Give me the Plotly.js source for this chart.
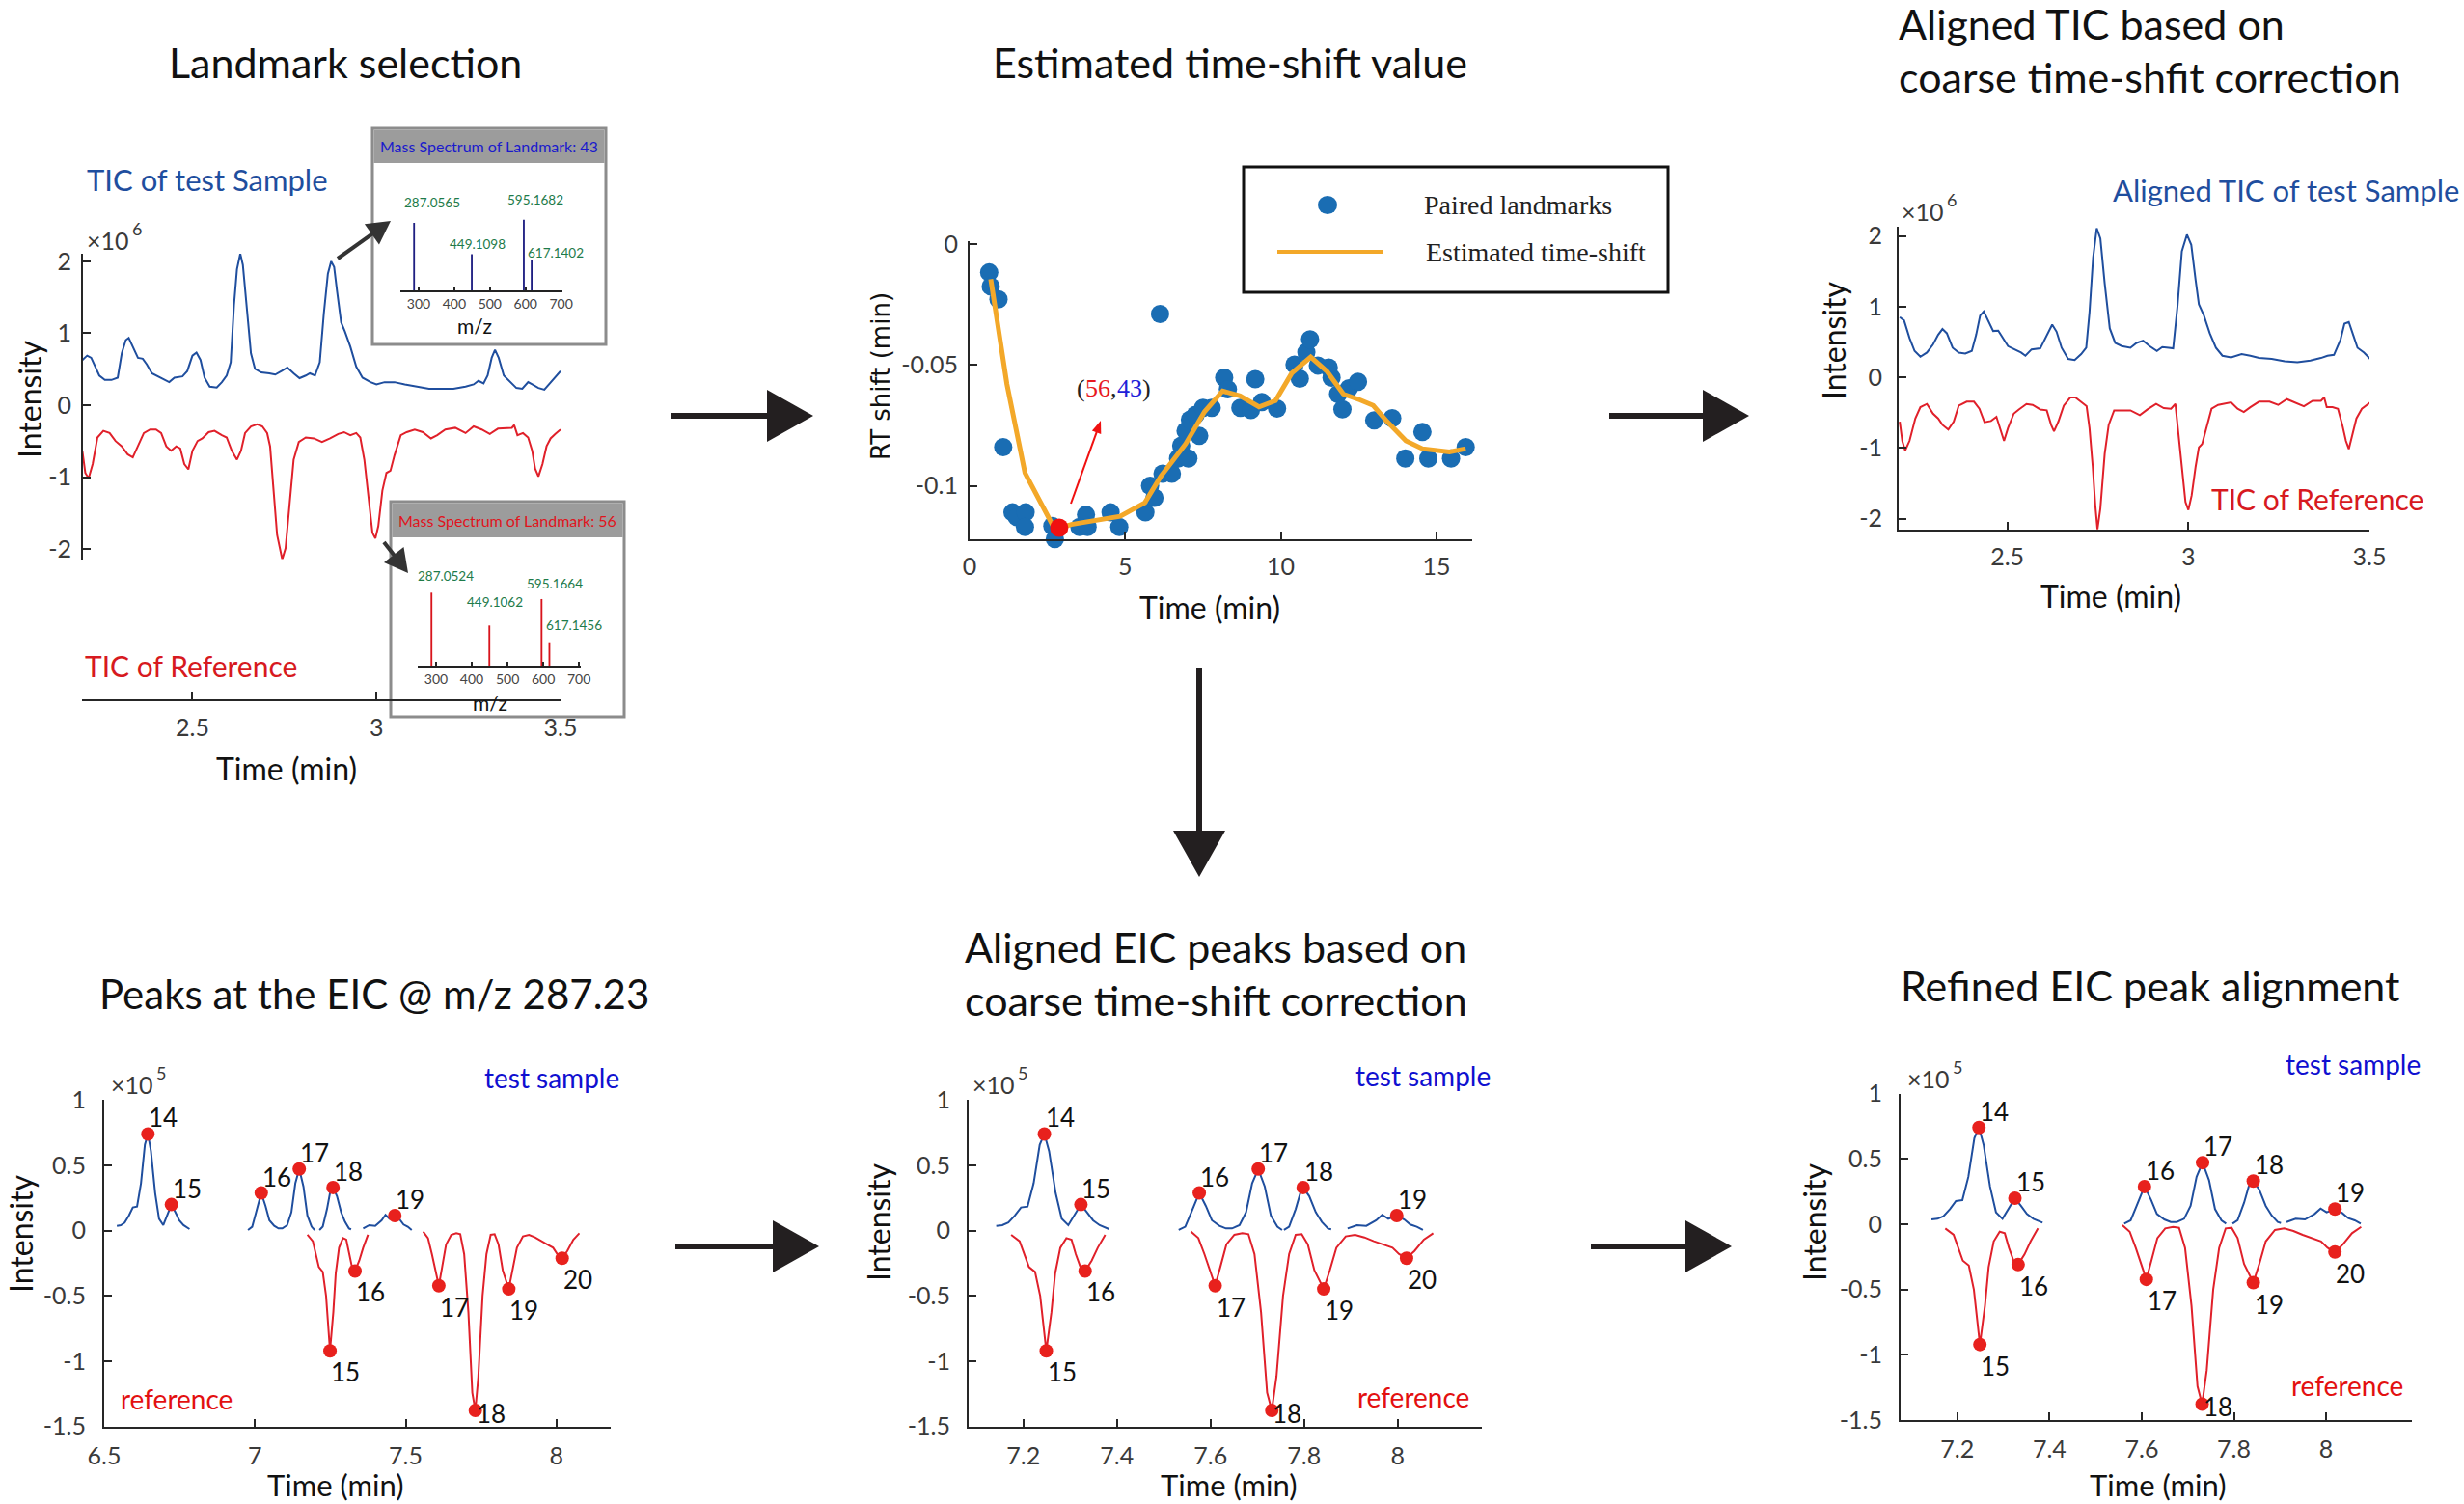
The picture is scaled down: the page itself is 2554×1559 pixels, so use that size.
<!DOCTYPE html>
<html>
<head>
<meta charset="utf-8">
<script src="https://cdn.plot.ly/plotly-3.0.1.min.js"></script>
<style>
html,body{margin:0;padding:0;background:#ffffff;}
#chart{width:2554px;height:1559px;}
</style>
</head>
<body>
<div id="chart"></div>
<script>
// ================= DATA =================
// Panel 1: TIC before alignment (time in min, intensity x1e6)
const lmTestTime = [2.201,2.214,2.225,2.236,2.247,2.262,2.280,2.297,2.308,2.319,2.327,2.338,2.352,2.365,2.376,2.390,2.407,2.423,2.437,2.451,2.473,2.486,2.500,2.511,2.522,2.533,2.547,2.566,2.580,2.593,2.604,2.613,2.621,2.630,2.637,2.648,2.659,2.670,2.687,2.709,2.725,2.742,2.758,2.775,2.791,2.808,2.819,2.833,2.846,2.857,2.868,2.877,2.885,2.893,2.904,2.914,2.929,2.945,2.962,2.984,3.000,3.022,3.049,3.077,3.110,3.143,3.176,3.209,3.242,3.264,3.277,3.291,3.302,3.313,3.322,3.332,3.346,3.363,3.380,3.396,3.412,3.423,3.440,3.456,3.473,3.486,3.500];
const lmTestTIC = [0.628,0.689,0.658,0.535,0.412,0.351,0.351,0.382,0.720,0.905,0.935,0.812,0.658,0.646,0.566,0.443,0.400,0.363,0.320,0.382,0.400,0.474,0.689,0.732,0.628,0.382,0.258,0.246,0.320,0.412,0.597,1.397,1.889,2.105,1.951,1.335,0.720,0.505,0.455,0.443,0.425,0.474,0.523,0.443,0.375,0.412,0.443,0.412,0.597,1.274,1.828,2.000,1.920,1.582,1.151,1.028,0.812,0.535,0.382,0.320,0.289,0.320,0.320,0.289,0.258,0.228,0.228,0.228,0.258,0.289,0.338,0.302,0.412,0.658,0.769,0.658,0.412,0.320,0.240,0.228,0.320,0.289,0.240,0.215,0.320,0.400,0.474];
const lmRefTime = [2.201,2.209,2.218,2.229,2.242,2.258,2.275,2.291,2.308,2.324,2.338,2.352,2.368,2.385,2.401,2.415,2.429,2.442,2.456,2.467,2.478,2.489,2.500,2.514,2.527,2.544,2.560,2.580,2.593,2.607,2.621,2.632,2.643,2.659,2.676,2.690,2.703,2.711,2.719,2.730,2.744,2.753,2.764,2.775,2.789,2.808,2.830,2.852,2.874,2.896,2.912,2.929,2.945,2.956,2.967,2.978,2.989,2.997,3.005,3.016,3.027,3.038,3.049,3.066,3.082,3.104,3.126,3.148,3.165,3.187,3.214,3.242,3.264,3.286,3.308,3.330,3.352,3.368,3.374,3.383,3.398,3.412,3.423,3.431,3.440,3.451,3.462,3.473,3.486,3.500];
const lmRefTIC = [-0.634,-0.942,-1.015,-0.818,-0.449,-0.357,-0.388,-0.498,-0.572,-0.683,-0.726,-0.572,-0.388,-0.338,-0.338,-0.388,-0.572,-0.634,-0.572,-0.603,-0.818,-0.892,-0.634,-0.498,-0.462,-0.375,-0.357,-0.418,-0.449,-0.634,-0.757,-0.634,-0.388,-0.295,-0.265,-0.295,-0.388,-0.572,-1.126,-1.803,-2.142,-1.988,-1.372,-0.757,-0.511,-0.449,-0.462,-0.511,-0.462,-0.400,-0.375,-0.418,-0.388,-0.449,-0.757,-1.311,-1.772,-1.852,-1.680,-1.188,-0.942,-0.911,-0.695,-0.418,-0.375,-0.338,-0.375,-0.462,-0.418,-0.338,-0.314,-0.388,-0.295,-0.338,-0.400,-0.326,-0.314,-0.314,-0.277,-0.418,-0.388,-0.449,-0.634,-0.880,-0.991,-0.818,-0.572,-0.462,-0.400,-0.338];

// Inset mass spectra (m/z, relative intensity)
const spec43Mz = [287.0565, 449.1098, 595.1682, 617.1402];
const spec43Int = [87.5, 47.0, 91.6, 39.6];
const spec56Mz = [287.0524, 449.1062, 595.1664, 617.1456];
const spec56Int = [94.6, 52.1, 86.3, 30.4];
const specTicks = [300, 400, 500, 600, 700];

// Panel 2: paired landmarks and estimated time-shift
const landmarkTime = [0.63,0.68,0.93,1.08,1.38,1.52,1.80,1.78,2.66,2.74,3.53,3.74,3.79,4.53,4.81,5.65,5.80,5.94,6.12,6.20,6.50,6.70,6.80,6.94,7.03,7.08,7.26,7.38,7.50,7.78,8.18,8.30,8.70,9.04,9.18,9.39,9.88,10.44,10.61,10.82,10.94,11.19,11.54,11.63,11.84,11.98,12.19,12.48,13.00,13.58,14.00,14.55,14.74,15.47,15.94];
const landmarkShift = [-0.0118,-0.0176,-0.0229,-0.0840,-0.1110,-0.1130,-0.1110,-0.1170,-0.1166,-0.1220,-0.1170,-0.1120,-0.1170,-0.1110,-0.1170,-0.1110,-0.1000,-0.1050,-0.0290,-0.0950,-0.0950,-0.0887,-0.0834,-0.0774,-0.0887,-0.0727,-0.0707,-0.0794,-0.0678,-0.0678,-0.0553,-0.0601,-0.0678,-0.0687,-0.0559,-0.0654,-0.0681,-0.0499,-0.0557,-0.0448,-0.0395,-0.0503,-0.0511,-0.0553,-0.0621,-0.0684,-0.0597,-0.0570,-0.0730,-0.0721,-0.0887,-0.0778,-0.0887,-0.0887,-0.0840];
const fitTime = [0.68,1.20,1.78,2.74,3.27,3.97,4.84,5.63,6.15,6.94,7.55,8.13,8.69,9.30,9.83,10.35,10.96,11.49,12.01,12.54,12.97,13.41,14.02,14.55,15.42,15.94];
const fitShift = [-0.0146,-0.0580,-0.0947,-0.1180,-0.1160,-0.1144,-0.1126,-0.1070,-0.0960,-0.0827,-0.0694,-0.0608,-0.0628,-0.0674,-0.0648,-0.0535,-0.0468,-0.0528,-0.0621,-0.0645,-0.0668,-0.0734,-0.0814,-0.0847,-0.0860,-0.0847];
const selTime = [2.88];
const selShift = [-0.1173];
const selPair = ['56', '43'];

// Panel 3: aligned TIC
const alTestTime = [2.203,2.215,2.230,2.244,2.260,2.278,2.295,2.309,2.321,2.333,2.349,2.366,2.384,2.402,2.414,2.425,2.435,2.447,2.461,2.475,2.487,2.502,2.520,2.538,2.550,2.567,2.591,2.609,2.624,2.636,2.650,2.668,2.686,2.704,2.718,2.727,2.737,2.747,2.757,2.769,2.783,2.798,2.816,2.840,2.857,2.875,2.893,2.913,2.928,2.946,2.958,2.970,2.982,2.996,3.008,3.020,3.029,3.043,3.059,3.076,3.094,3.118,3.147,3.171,3.195,3.230,3.266,3.301,3.337,3.366,3.384,3.402,3.420,3.431,3.443,3.455,3.467,3.485,3.502];
const alTestTIC = [0.850,0.805,0.555,0.373,0.291,0.350,0.464,0.600,0.682,0.623,0.418,0.350,0.336,0.373,0.600,0.873,0.932,0.805,0.655,0.659,0.555,0.441,0.395,0.350,0.305,0.395,0.409,0.600,0.745,0.645,0.418,0.259,0.245,0.327,0.418,0.918,1.691,2.109,1.964,1.327,0.691,0.486,0.441,0.418,0.486,0.518,0.441,0.373,0.427,0.418,0.409,1.009,1.782,2.018,1.873,1.373,1.032,0.873,0.623,0.418,0.305,0.282,0.327,0.305,0.273,0.259,0.227,0.214,0.236,0.273,0.305,0.318,0.532,0.759,0.782,0.600,0.418,0.350,0.259];
const alRefTime = [2.203,2.210,2.218,2.230,2.246,2.260,2.278,2.295,2.309,2.321,2.337,2.352,2.366,2.388,2.408,2.423,2.437,2.455,2.470,2.482,2.491,2.502,2.518,2.532,2.553,2.570,2.591,2.609,2.621,2.629,2.641,2.656,2.674,2.688,2.704,2.719,2.727,2.736,2.743,2.749,2.757,2.769,2.780,2.795,2.816,2.840,2.866,2.887,2.911,2.932,2.952,2.964,2.970,2.982,2.992,3.000,3.009,3.020,3.029,3.038,3.050,3.064,3.082,3.100,3.118,3.136,3.153,3.171,3.195,3.224,3.248,3.272,3.296,3.319,3.343,3.366,3.375,3.382,3.398,3.413,3.425,3.435,3.443,3.452,3.464,3.479,3.502];
const alRefTIC = [-0.627,-0.900,-1.036,-0.900,-0.582,-0.423,-0.377,-0.514,-0.582,-0.673,-0.741,-0.627,-0.400,-0.345,-0.345,-0.445,-0.636,-0.618,-0.559,-0.764,-0.900,-0.718,-0.514,-0.455,-0.377,-0.391,-0.455,-0.468,-0.673,-0.764,-0.627,-0.400,-0.286,-0.286,-0.355,-0.409,-0.718,-1.264,-1.809,-2.150,-1.855,-1.082,-0.673,-0.468,-0.468,-0.468,-0.536,-0.455,-0.377,-0.436,-0.445,-0.377,-0.673,-1.309,-1.764,-1.877,-1.673,-1.264,-0.991,-0.945,-0.718,-0.445,-0.391,-0.377,-0.355,-0.445,-0.491,-0.423,-0.345,-0.345,-0.391,-0.309,-0.355,-0.409,-0.332,-0.332,-0.286,-0.423,-0.423,-0.445,-0.673,-0.900,-1.014,-0.809,-0.582,-0.445,-0.355];

// EIC @ m/z 287.23 (intensity x1e5), test sample in four segments
const eicTestA = [0.037,0.042,0.062,0.116,0.178,0.185,0.363,0.659,0.741,0.610,0.289,0.091,0.042,0.116,0.200,0.141,0.079,0.042,0.012];
const eicTestB = [0.005,0.030,0.141,0.289,0.190,0.079,0.037,0.017,0.017,0.042,0.141,0.363,0.472,0.338,0.116,0.030,0.005];
const eicTestC = [0.005,0.030,0.165,0.289,0.331,0.265,0.141,0.067,0.017,0.010];
const eicTestD = [0.017,0.042,0.037,0.079,0.121,0.091,0.116,0.086,0.047,0.030,0.005];
// retention times of the test segments: raw, after coarse shift, after refinement
const rawTimeA = [6.542,6.555,6.568,6.582,6.595,6.609,6.622,6.635,6.645,6.655,6.669,6.682,6.696,6.709,6.723,6.736,6.749,6.763,6.783];
const rawTimeB = [6.977,6.991,7.004,7.021,7.035,7.048,7.064,7.078,7.091,7.107,7.121,7.134,7.147,7.161,7.174,7.188,7.198];
const rawTimeC = [7.214,7.225,7.239,7.249,7.259,7.272,7.286,7.299,7.312,7.319];
const rawTimeD = [7.359,7.379,7.399,7.420,7.433,7.446,7.464,7.480,7.493,7.507,7.520];
const coarseTimeA = [7.142,7.155,7.168,7.182,7.195,7.209,7.222,7.235,7.245,7.255,7.269,7.282,7.296,7.309,7.323,7.336,7.349,7.363,7.383];
const coarseTimeB = [7.532,7.546,7.559,7.576,7.590,7.603,7.619,7.633,7.646,7.662,7.676,7.689,7.702,7.716,7.729,7.743,7.753];
const coarseTimeC = [7.757,7.768,7.782,7.792,7.798,7.811,7.825,7.838,7.851,7.858];
const coarseTimeD = [7.893,7.913,7.933,7.954,7.967,7.980,7.998,8.014,8.027,8.041,8.054];
const refinedTimeA = [7.144,7.157,7.170,7.184,7.197,7.211,7.224,7.237,7.247,7.257,7.271,7.284,7.298,7.311,7.325,7.338,7.351,7.365,7.385];
const refinedTimeB = [7.562,7.576,7.589,7.606,7.620,7.633,7.649,7.663,7.676,7.692,7.706,7.719,7.732,7.746,7.759,7.773,7.783];
const refinedTimeC = [7.797,7.808,7.822,7.832,7.842,7.855,7.869,7.882,7.895,7.902];
const refinedTimeD = [7.914,7.934,7.954,7.975,7.988,8.001,8.019,8.035,8.048,8.062,8.075];
// reference EIC (plotted downward), two segments
const refTime1 = [7.174,7.192,7.212,7.225,7.236,7.245,7.249,7.260,7.268,7.279,7.292,7.303,7.312,7.322,7.332,7.346,7.359,7.375];
const refEIC1 = [-0.032,-0.081,-0.279,-0.316,-0.501,-0.822,-0.921,-0.625,-0.328,-0.131,-0.057,-0.069,-0.180,-0.279,-0.309,-0.230,-0.131,-0.032];
const refTime2 = [7.558,7.574,7.587,7.601,7.610,7.621,7.634,7.651,7.668,7.681,7.694,7.708,7.721,7.731,7.741,7.755,7.768,7.782,7.795,7.808,7.822,7.842,7.855,7.869,7.889,7.909,7.929,7.949,7.969,7.989,8.003,8.019,8.036,8.056,8.076];
const refEIC2 = [-0.007,-0.057,-0.180,-0.328,-0.422,-0.279,-0.106,-0.032,-0.020,-0.027,-0.180,-0.625,-1.242,-1.378,-1.119,-0.501,-0.180,-0.032,-0.027,-0.106,-0.304,-0.447,-0.304,-0.131,-0.044,-0.032,-0.052,-0.081,-0.106,-0.131,-0.180,-0.212,-0.156,-0.069,-0.020];
// picked peaks
const testPeakId = ['14','15','16','17','18','19'];
const testPeakY = [0.741,0.200,0.289,0.472,0.331,0.116];
const rawPeakT = [6.645,6.723,7.021,7.147,7.259,7.464];
const coarsePeakT = [7.245,7.323,7.576,7.702,7.798,7.998];
const refinedPeakT = [7.247,7.325,7.606,7.732,7.842,8.019];
const refPeakId = ['15','16','17','18','19','20'];
const refPeakT = [7.249,7.332,7.610,7.731,7.842,8.019];
const refPeakY = [-0.921,-0.309,-0.422,-1.378,-0.447,-0.212];

// ================= STYLE / LAYOUT =================
const W = 2554, H = 1559;
const X = p => p / W;
const Y = p => 1 - p / H;
const FONT = 'Lato, "Noto Sans", "DejaVu Sans", sans-serif';
const SERIF = '"Liberation Serif", "DejaVu Serif", serif';
const AX = '#262626', TICKC = '#3a3a3a';
const BLUE = '#1f4e9e', RED = '#e0202a', DOT = '#e8211d';
const SCAT = '#1a6db3', ORANGE = '#f3a829';

function join(...segs){ const out=[]; segs.forEach((s,i)=>{ if(i) out.push(null); out.push(...s); }); return out; }

function ax(o){
  return Object.assign({
    showline:true, linecolor:AX, linewidth:2, ticks:'inside', ticklen:8, tickwidth:2, tickcolor:AX,
    showgrid:false, zeroline:false, fixedrange:true, automargin:false,
    tickfont:{family:FONT, size:25, color:TICKC}
  }, o);
}

const traces = [];
// Panel 1
traces.push({type:'scatter', mode:'lines', name:'TIC of test Sample', x:lmTestTime, y:lmTestTIC, xaxis:'x', yaxis:'y', line:{color:BLUE, width:2}});
traces.push({type:'scatter', mode:'lines', name:'TIC of Reference', x:lmRefTime, y:lmRefTIC, xaxis:'x', yaxis:'y', line:{color:RED, width:2}});
// Insets
traces.push({type:'bar', name:'Landmark 43', x:spec43Mz, y:spec43Int, width:5, xaxis:'x2', yaxis:'y2', marker:{color:'#1f1f82', line:{width:0}}});
traces.push({type:'bar', name:'Landmark 56', x:spec56Mz, y:spec56Int, width:5, xaxis:'x3', yaxis:'y3', marker:{color:'#d8141c', line:{width:0}}});
// Panel 2
traces.push({type:'scatter', mode:'markers', name:'Paired landmarks', x:landmarkTime, y:landmarkShift, xaxis:'x4', yaxis:'y4', cliponaxis:false, marker:{color:SCAT, size:19}});
traces.push({type:'scatter', mode:'lines', name:'Estimated time-shift', x:fitTime, y:fitShift, xaxis:'x4', yaxis:'y4', line:{color:ORANGE, width:5}});
traces.push({type:'scatter', mode:'markers', name:'(56,43)', x:selTime, y:selShift, xaxis:'x4', yaxis:'y4', cliponaxis:false, marker:{color:'#f01010', size:19}});
// Panel 3
traces.push({type:'scatter', mode:'lines', name:'Aligned TIC of test Sample', x:alTestTime, y:alTestTIC, xaxis:'x5', yaxis:'y5', line:{color:BLUE, width:2}});
traces.push({type:'scatter', mode:'lines', name:'TIC of Reference', x:alRefTime, y:alRefTIC, xaxis:'x5', yaxis:'y5', line:{color:RED, width:2}});
// EIC panels
const testY = join(eicTestA, eicTestB, eicTestC, eicTestD);
const refT = join(refTime1, refTime2), refY = join(refEIC1, refEIC2);
const eicPanels = [
  {xa:'x6', ya:'y6', t:join(rawTimeA, rawTimeB, rawTimeC, rawTimeD), pk:rawPeakT},
  {xa:'x7', ya:'y7', t:join(coarseTimeA, coarseTimeB, coarseTimeC, coarseTimeD), pk:coarsePeakT},
  {xa:'x8', ya:'y8', t:join(refinedTimeA, refinedTimeB, refinedTimeC, refinedTimeD), pk:refinedPeakT}
];
eicPanels.forEach(p => {
  traces.push({type:'scatter', mode:'lines', name:'test sample', x:p.t, y:testY, xaxis:p.xa, yaxis:p.ya, connectgaps:false, line:{color:BLUE, width:2}});
  traces.push({type:'scatter', mode:'lines', name:'reference', x:refT, y:refY, xaxis:p.xa, yaxis:p.ya, connectgaps:false, line:{color:RED, width:2}});
  traces.push({type:'scatter', mode:'markers', name:'test peaks', x:p.pk, y:testPeakY, xaxis:p.xa, yaxis:p.ya, cliponaxis:false, marker:{color:DOT, size:14}});
  traces.push({type:'scatter', mode:'markers', name:'reference peaks', x:refPeakT, y:refPeakY, xaxis:p.xa, yaxis:p.ya, cliponaxis:false, marker:{color:DOT, size:14}});
});

const tic6 = {tickvals:[-2,-1,0,1,2], ticktext:['-2','-1','0','1','2']};
const tic5 = {tickvals:[-1.5,-1,-0.5,0,0.5,1], ticktext:['-1.5','-1','-0.5','0','0.5','1']};
const specAx = {ticklen:4, tickwidth:1.5, linewidth:2, linecolor:'#222', tickvals:specTicks, ticktext:specTicks.map(String), tickfont:{family:FONT, size:14, color:'#444'}};

const layout = {
  width:W, height:H, margin:{l:0,r:0,t:0,b:0}, paper_bgcolor:'#ffffff', plot_bgcolor:'rgba(0,0,0,0)',
  showlegend:false, hovermode:false, font:{family:FONT},
  // Panel 1
  xaxis: ax({domain:[X(85),X(581)], range:[2.2,3.5], anchor:'free', position:Y(726), tickvals:[2.5,3,3.5], ticktext:['2.5','3','3.5'], ticklabelstandoff:6}),
  yaxis: ax(Object.assign({domain:[Y(579.6),Y(263)], range:[-2.14,2.105], anchor:'free', position:X(85), ticklabelstandoff:5}, tic6)),
  // Insets
  xaxis2: ax(Object.assign({domain:[X(415),X(583)], range:[248.6,703.6], anchor:'y2'}, specAx)),
  yaxis2: {domain:[Y(301),Y(221)], range:[0,100], anchor:'x2', visible:false, fixedrange:true},
  xaxis3: ax(Object.assign({domain:[X(433),X(602)], range:[248.6,705], anchor:'y3'}, specAx)),
  yaxis3: {domain:[Y(690),Y(610)], range:[0,100], anchor:'x3', visible:false, fixedrange:true},
  // Panel 2
  xaxis4: ax({domain:[X(1005),X(1526)], range:[0,16.15], anchor:'y4', tickvals:[0,5,10,15], ticktext:['0','5','10','15'], ticklabelstandoff:5}),
  yaxis4: ax({domain:[Y(558.7),Y(250)], range:[-0.122,0.0011], anchor:'x4', tickvals:[0,-0.05,-0.1], ticktext:['0','-0.05','-0.1'], ticklabelstandoff:5}),
  // Panel 3
  xaxis5: ax({domain:[X(1968),X(2456)], range:[2.2,3.5], anchor:'y5', tickvals:[2.5,3,3.5], ticktext:['2.5','3','3.5'], ticklabelstandoff:5}),
  yaxis5: ax(Object.assign({domain:[Y(549),Y(235)], range:[-2.155,2.13], anchor:'x5', ticklabelstandoff:10}, tic6)),
  // EIC panels
  xaxis6: ax({domain:[X(108),X(633)], range:[6.5,8.18], anchor:'y6', tickvals:[6.5,7,7.5,8], ticktext:['6.5','7','7.5','8'], ticklabelstandoff:7}),
  yaxis6: ax(Object.assign({domain:[Y(1478.5),Y(1140.4)], range:[-1.5,1], anchor:'x6', ticklabelstandoff:12}, tic5)),
  xaxis7: ax({domain:[X(1004),X(1536)], range:[7.083,8.18], anchor:'y7', tickvals:[7.2,7.4,7.6,7.8,8], ticktext:['7.2','7.4','7.6','7.8','8'], ticklabelstandoff:7}),
  yaxis7: ax(Object.assign({domain:[Y(1478.5),Y(1140.4)], range:[-1.5,1], anchor:'x7', ticklabelstandoff:12}, tic5)),
  xaxis8: ax({domain:[X(1970),X(2500)], range:[7.077,8.186], anchor:'y8', tickvals:[7.2,7.4,7.6,7.8,8], ticktext:['7.2','7.4','7.6','7.8','8'], ticklabelstandoff:7}),
  yaxis8: ax(Object.assign({domain:[Y(1472),Y(1133.7)], range:[-1.5,1], anchor:'x8', ticklabelstandoff:12}, tic5)),
  annotations:[], shapes:[]
};

const A = layout.annotations, S = layout.shapes;
function txt(text, x, y, o){
  A.push(Object.assign({text, xref:'paper', yref:'paper', x:X(x), y:Y(y), showarrow:false, xanchor:'center', yanchor:'middle',
    font:{family:FONT, size:28, color:'#111'}}, o || {}));
}
// Panel titles
const TF = {family:FONT, size:43, color:'#111'};
txt('Landmark selection', 358, 65, {font:TF});
txt('Estimated time-shift value', 1275, 65, {font:TF});
txt('Aligned TIC based on', 1966, 24, {font:TF, xanchor:'left'});
txt('coarse time-shfit correction', 1966, 80, {font:TF, xanchor:'left'});
txt('Peaks at the EIC @ m/z 287.23', 388, 1030, {font:{family:FONT, size:42, color:'#111'}});
txt('Aligned EIC peaks based on', 998, 981, {font:TF, xanchor:'left'});
txt('coarse time-shift correction', 998, 1036, {font:TF, xanchor:'left'});
txt('Refined EIC peak alignment', 2228, 1021, {font:TF});

// Axis titles
const ATF = {family:FONT, size:32, color:'#111'};
const V = {textangle:-90, font:ATF};
txt('Intensity', 30, 414, V);
txt('Time (min)', 297, 796, {font:ATF});
txt('RT shift (min)', 913, 390, {textangle:-90, font:{family:'"DejaVu Sans", sans-serif', size:26, color:'#111'}});
txt('Time (min)', 1254, 630, {font:ATF});
txt('Intensity', 1901, 353, V);
txt('Time (min)', 2188, 617, {font:ATF});
txt('Intensity', 21, 1279, V);
txt('Intensity', 910, 1267, V);
txt('Intensity', 1880, 1267, V);
const BT = {font:{family:FONT, size:31, color:'#111'}, yanchor:'bottom', borderpad:0};
txt('Time (min)', 347, 1558.5, BT);
txt('Time (min)', 1273, 1558.5, BT);
txt('Time (min)', 2236, 1558.5, BT);
txt('m/z', 492, 338, {font:{family:FONT, size:21, color:'#111'}});
txt('m/z', 508, 728, {font:{family:FONT, size:21, color:'#111'}});

// Series labels
txt('TIC of test Sample', 88, 186, {xanchor:'left', font:{family:FONT, size:31, color:BLUE}});
txt('TIC of Reference', 86, 690, {xanchor:'left', font:{family:FONT, size:30, color:'#d71920'}});
txt('Aligned TIC of test Sample', 2188, 197, {xanchor:'left', font:{family:FONT, size:31, color:BLUE}});
txt('TIC of Reference', 2290, 517, {xanchor:'left', font:{family:FONT, size:30, color:'#d71920'}});
const TS = {family:FONT, size:28, color:'#1010d0'}, RS = {family:FONT, size:28, color:'#e31010'};
txt('test sample', 500, 1117, {xanchor:'left', font:TS});
txt('reference', 123, 1450, {xanchor:'left', font:RS});
txt('test sample', 1403, 1115, {xanchor:'left', font:TS});
txt('reference', 1405, 1448, {xanchor:'left', font:RS});
txt('test sample', 2367, 1103, {xanchor:'left', font:TS});
txt('reference', 2373, 1436, {xanchor:'left', font:RS});

// axis exponent labels (x10^n)
const EF = {family:FONT, size:25, color:'#3a3a3a'}, EFS = {family:FONT, size:18, color:'#3a3a3a'};
function expo(x, y, n){
  txt('\u00d710', x, y, {xanchor:'left', font:EF});
  txt(n, x + 47, y - 12, {xanchor:'left', font:EFS});
}
expo(88, 249, '6');
expo(1969, 219, '6');
expo(113, 1124, '5');
expo(1006, 1124, '5');
expo(1975, 1118, '5');

// Inset boxes
function rect(x0,y0,x1,y1,o){ S.push(Object.assign({type:'rect', xref:'paper', yref:'paper', x0:X(x0), y0:Y(y0), x1:X(x1), y1:Y(y1)}, o)); }
rect(386,133,628,357,{layer:'below', fillcolor:'#ffffff', line:{color:'#8c8c8c', width:3}});
rect(387.5,134.5,626.5,169,{layer:'below', fillcolor:'#9c9c9c', line:{width:0}});
rect(405,520,647,743,{layer:'below', fillcolor:'#ffffff', line:{color:'#8c8c8c', width:3}});
rect(406.5,521.5,645.5,557,{layer:'below', fillcolor:'#9c9c9c', line:{width:0}});
txt('Mass Spectrum of Landmark: 43', 507, 152, {font:{family:FONT, size:16, color:'#1a1acc'}});
txt('Mass Spectrum of Landmark: 56', 526, 539, {font:{family:FONT, size:16, color:'#e0141c'}});
const GF = {family:FONT, size:13.5, color:'#1e7b4a'};
const off43 = [[19,21],[6,10],[12,21],[25,7]];
const off56 = [[15,17],[6,24],[14,16],[26,18]];
spec43Mz.forEach((m,i) => A.push({text:m.toFixed(4), xref:'x2', yref:'y2', x:m, y:spec43Int[i], xshift:off43[i][0], yshift:off43[i][1], showarrow:false, font:GF}));
spec56Mz.forEach((m,i) => A.push({text:m.toFixed(4), xref:'x3', yref:'y3', x:m, y:spec56Int[i], xshift:off56[i][0], yshift:off56[i][1], showarrow:false, font:GF}));

// Legend of panel 2
rect(1289,173,1729,303,{fillcolor:'rgba(0,0,0,0)', line:{color:'#111', width:3}});
S.push({type:'circle', xref:'paper', yref:'paper', x0:X(1366), y0:Y(222), x1:X(1386), y1:Y(203), fillcolor:SCAT, line:{width:0}});
S.push({type:'line', xref:'paper', yref:'paper', x0:X(1324), y0:Y(261), x1:X(1434), y1:Y(261), line:{color:ORANGE, width:4}});
const LF = {family:SERIF, size:28, color:'#222'};
txt('Paired landmarks', 1474, 213, {xanchor:'left', font:LF});
txt('Estimated time-shift', 1476, 261, {xanchor:'left', font:LF});
// highlighted pair label "(56,43)" : reference index red, test index blue
const PL = {family:SERIF, size:26, color:'#222'};
txt('(', 1114, 403, {xanchor:'left', font:PL});
txt(selPair[0], 1123, 403, {xanchor:'left', font:{family:SERIF, size:26, color:'#e8191f'}});
txt(',', 1149, 403, {xanchor:'left', font:PL});
txt(selPair[1], 1156, 403, {xanchor:'left', font:{family:SERIF, size:26, color:'#2020d8'}});
txt(')', 1182, 403, {xanchor:'left', font:PL});

// EIC peak labels
const PF = {family:FONT, size:26, color:'#111'};
eicPanels.forEach(p => {
  p.pk.forEach((t,i) => A.push({text:testPeakId[i], xref:p.xa, yref:p.ya, x:t, y:testPeakY[i], xshift:16, yshift:17, showarrow:false, font:PF}));
  refPeakT.forEach((t,i) => A.push({text:refPeakId[i], xref:p.xa, yref:p.ya, x:t, y:refPeakY[i], xshift:16, yshift:i===3?-3:-22, showarrow:false, font:PF}));
});

// Arrows (pixel geometry)
function arrow(x0,y0,x1,y1,w,hl,hw,color){
  const dx=x1-x0, dy=y1-y0, L=Math.hypot(dx,dy), ux=dx/L, uy=dy/L, nx=-uy, ny=ux;
  const bx=x1-ux*hl, by=y1-uy*hl;
  S.push({type:'line', xref:'paper', yref:'paper', x0:X(x0), y0:Y(y0), x1:X(bx+ux*2), y1:Y(by+uy*2), line:{color, width:w}});
  S.push({type:'path', xref:'paper', yref:'paper', path:`M${X(x1)},${Y(y1)} L${X(bx+nx*hw)},${Y(by+ny*hw)} L${X(bx-nx*hw)},${Y(by-ny*hw)} Z`, fillcolor:color, line:{color:'rgba(0,0,0,0)', width:0}});
}
const AC = '#231f20';
arrow(696,431,843,431,6,48,27,AC);
arrow(1668,431,1813,431,6,48,27,AC);
arrow(1243,692,1243,909,6,48,27,AC);
arrow(700,1292,849,1292,6,48,27,AC);
arrow(1649,1292,1795,1292,6,48,27,AC);
arrow(350,268,405,229,4,24,13,'#333333');
arrow(398,562,423,594,4,24,13,'#333333');
// red pointer to the highlighted pair
arrow(1110,522,1141,436,2,13,5,'#f01010');

Plotly.newPlot('chart', traces, layout, {staticPlot:true, displayModeBar:false});
</script>
</body>
</html>
